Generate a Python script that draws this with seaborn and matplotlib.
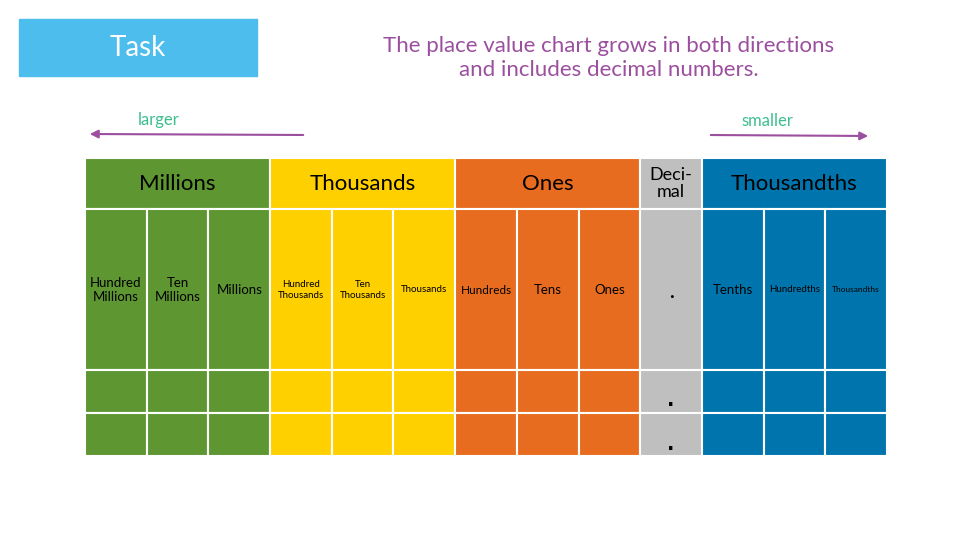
import matplotlib
matplotlib.use("Agg")
import matplotlib.pyplot as plt
from matplotlib.patches import Rectangle
import seaborn as sns

sns.set_theme(style="white")

groups = ["Millions", "Thousands", "Ones", "Deci-\nmal", "Thousandths"]
group_spans = [3, 3, 3, 1, 3]
group_colors = ["#5E9732", "#FFD000", "#E86C1F", "#BFBFBF", "#0075AD"]
group_fs = [16, 16, 16, 13, 16]
columns = ["Hundred\nMillions", "Ten\nMillions", "Millions",
           "Hundred\nThousands", "Ten\nThousands", "Thousands",
           "Hundreds", "Tens", "Ones", ".",
           "Tenths", "Hundredths", "Thousandths"]
col_fs = [9.5, 9.5, 9.5, 7, 7, 7, 8.5, 9.5, 9.5, 14, 9.5, 7, 6]
empty_rows = 2

fig = plt.figure(figsize=(9.6, 5.4), dpi=100)
ax = fig.add_axes([0, 0, 1, 1])
ax.set_xlim(0, 960); ax.set_ylim(540, 0); ax.axis("off")
font = "Lato"

# title box
ax.add_patch(Rectangle((19, 19), 238, 57, color="#4DBDED"))
ax.text(138, 48, "Task", color="white", fontsize=20, ha="center", va="center", family=font)
ax.text(609, 58, "The place value chart grows in both directions\nand includes decimal numbers.",
        color="#9B4F9E", fontsize=16, ha="center", va="center", linespacing=1.3, family=font)
ax.text(159, 120, "larger", color="#3DBE8E", fontsize=12, ha="center", va="center", family=font)
ax.text(767, 121, "smaller", color="#3DBE8E", fontsize=12, ha="center", va="center", family=font)
ax.annotate("", xy=(87, 134), xytext=(306, 135),
            arrowprops=dict(arrowstyle="-|>", color="#9B4F9E", lw=1.5, mutation_scale=12))
ax.annotate("", xy=(871, 136), xytext=(708, 135),
            arrowprops=dict(arrowstyle="-|>", color="#9B4F9E", lw=1.5, mutation_scale=12))

x0, x1 = 85, 887
cw = (x1 - x0) / len(columns)
ys = [158, 209, 370, 413, 456]
col_colors = []
for c, s in zip(group_colors, group_spans):
    col_colors += [c] * s

# header
ci = 0
for g, s, c, fs in zip(groups, group_spans, group_colors, group_fs):
    xa = x0 + ci * cw
    ax.add_patch(Rectangle((xa, ys[0]), s * cw, ys[1] - ys[0], facecolor=c, edgecolor="white", lw=1.5))
    ax.text(xa + s * cw / 2, (ys[0] + ys[1]) / 2, g, ha="center", va="center",
            fontsize=fs, color="black", family=font, linespacing=1.1)
    ci += s

# body
for i, (name, c, fs) in enumerate(zip(columns, col_colors, col_fs)):
    xa = x0 + i * cw
    for r in range(1 + empty_rows):
        ax.add_patch(Rectangle((xa, ys[r + 1]), cw, ys[r + 2] - ys[r + 1],
                               facecolor=c, edgecolor="white", lw=1.5))
    ax.text(xa + cw / 2, 290 if name != "." else 292, name, ha="center", va="center",
            fontsize=fs, color="black", family=font, fontweight="bold" if name == "." else "normal")
    if name == ".":
        for r in range(empty_rows):
            ax.text(xa + cw / 2, ys[r + 3] - 12, ".", ha="center", va="center",
                    fontsize=fs, fontweight="bold", color="black")

fig.savefig("out.png", dpi=100, facecolor="white")
